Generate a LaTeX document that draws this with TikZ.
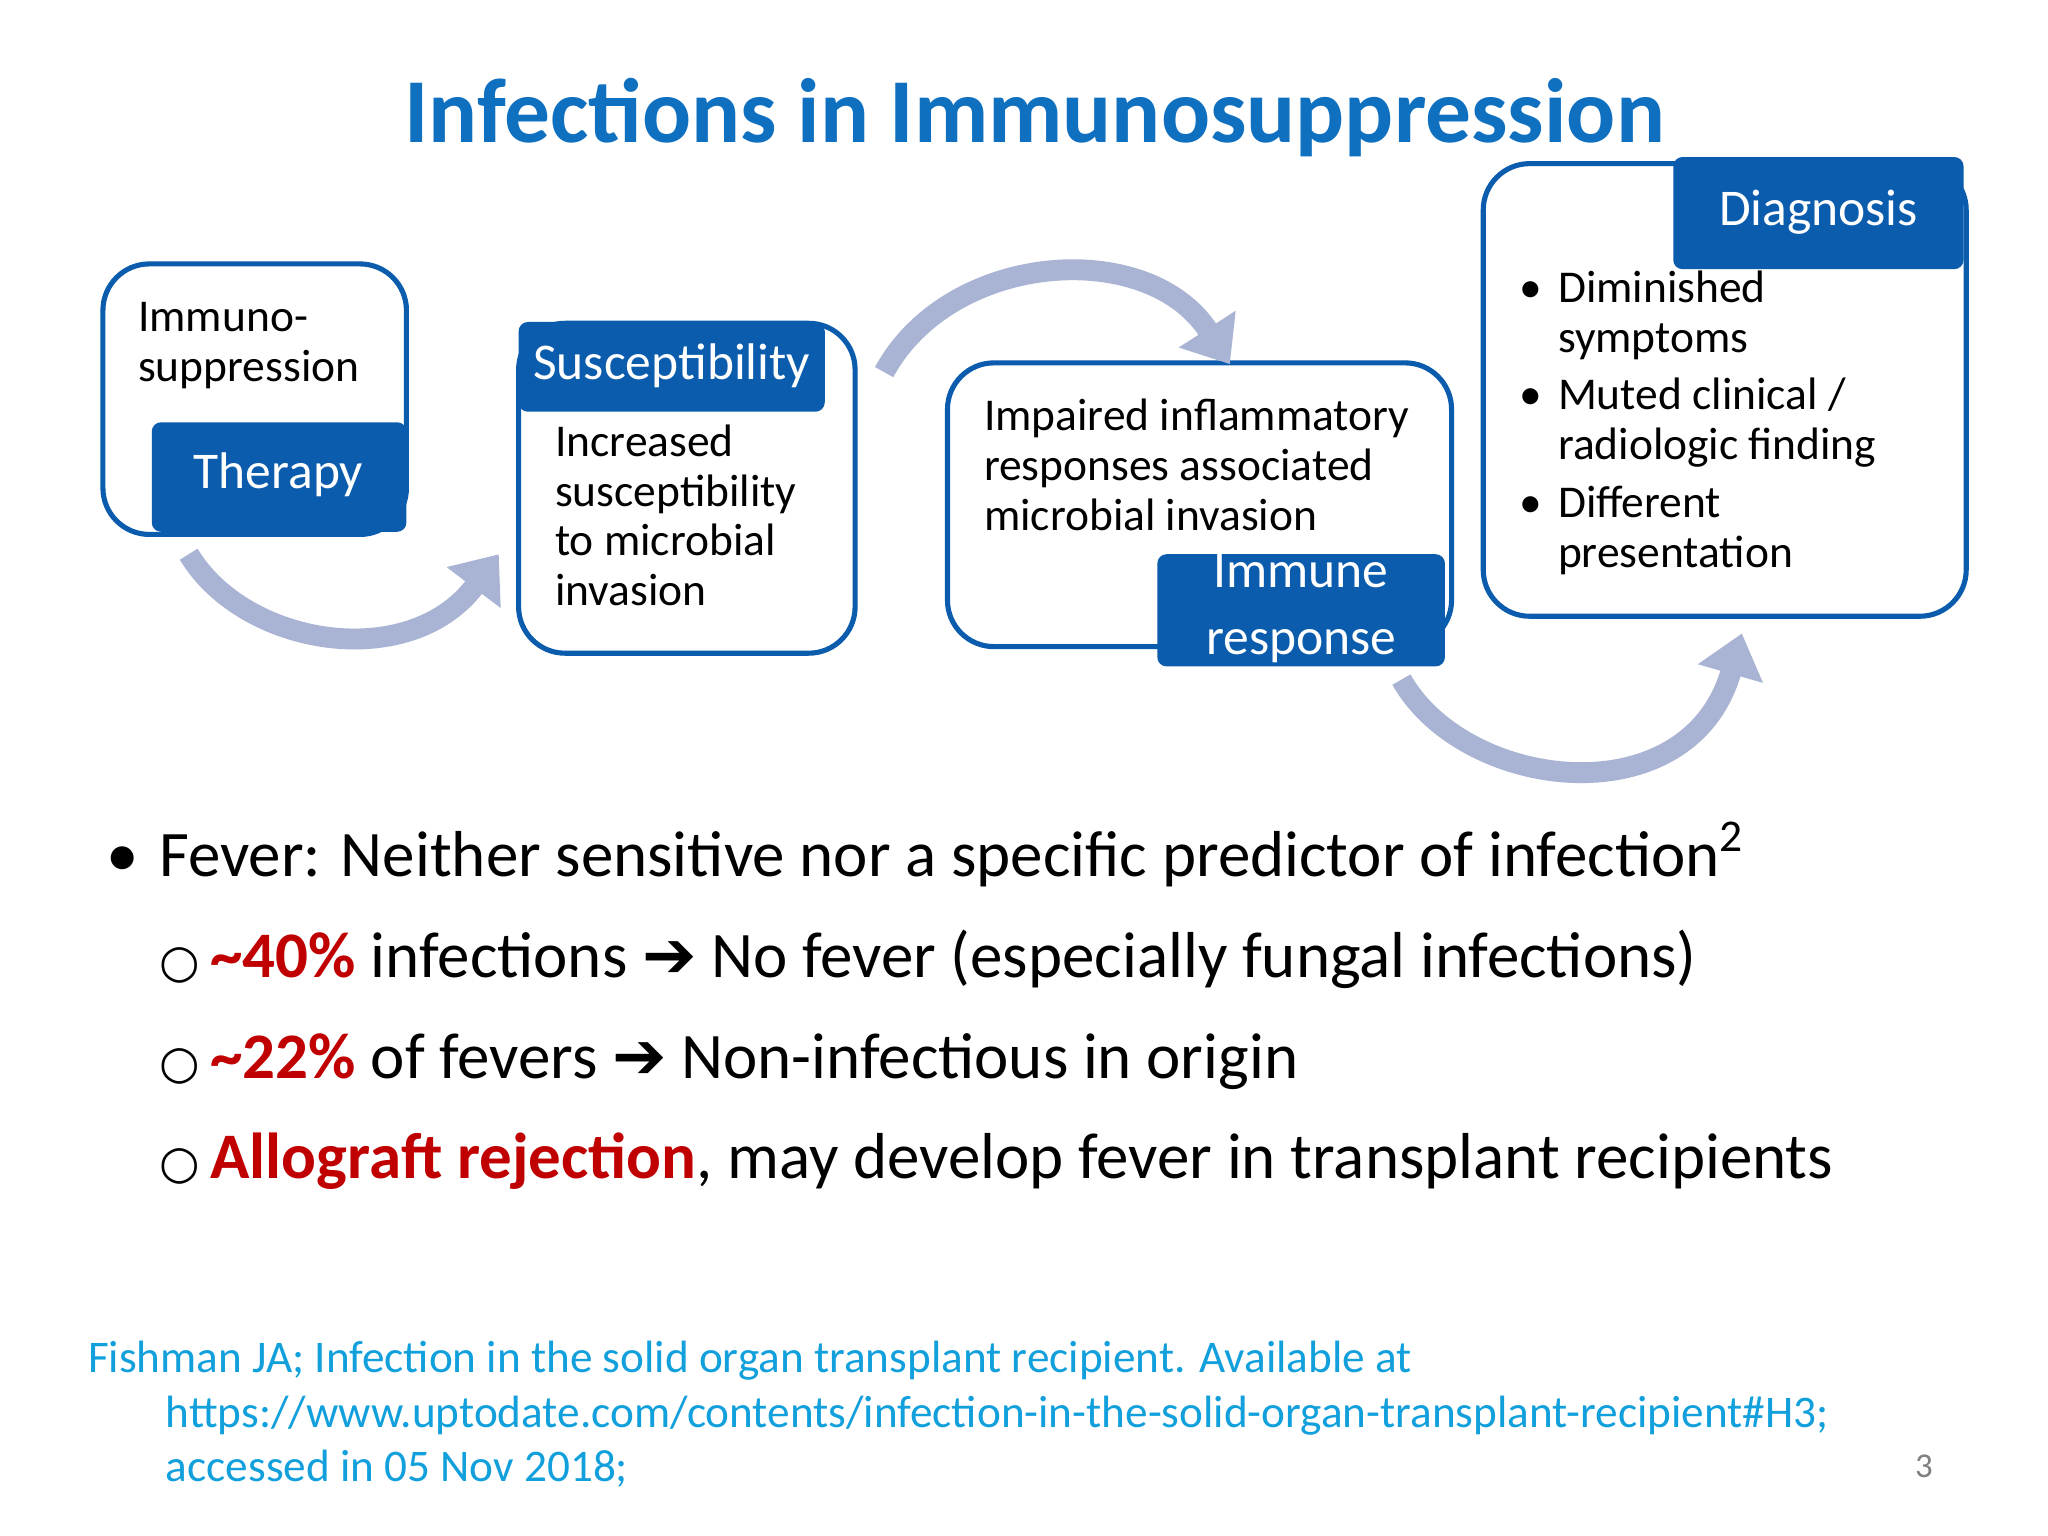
\documentclass[tikz,border=0pt]{standalone}
\usepackage{fontspec}
\setmainfont{Carlito}
\newfontfamily\djv{DejaVu Sans}
\usetikzlibrary{arrows.meta}
\definecolor{ttl}{HTML}{1070C0}
\definecolor{bx}{HTML}{0B5CAD}
\definecolor{rd}{HTML}{C00000}
\definecolor{arc}{HTML}{A9B4D4}
\definecolor{cy}{HTML}{12A0DC}
\tikzset{
 card/.style={draw=bx,line width=1.1pt,rounded corners=10pt,fill=white},
 labt/.style={text=white,font=\fontsize{11.1}{13.2}\selectfont,align=center},
 tx/.style={anchor=base west,inner sep=0pt,font=\fontsize{9.8}{12}\selectfont},
 big/.style={anchor=base west,inner sep=0pt,font=\fontsize{14}{17}\selectfont},
 fn/.style={anchor=base west,inner sep=0pt,font=\fontsize{9.75}{12}\selectfont,text=cy},
 flow/.style={draw=arc,line width=4.5pt,-{Triangle[length=9pt,width=14pt]}}
}
\newcommand{\circb}{{\djv\fontsize{10}{12}\selectfont ○}}
\begin{document}
\begin{tikzpicture}[x=0.01cm,y=-0.01cm]
\useasboundingbox[fill=white] (0,0) rectangle (1552,1164);
\node[font=\fontsize{19.7}{23}\selectfont\bfseries,text=ttl,anchor=base] (title) at (784,108) {Infections in Immunosuppression};
% box1
\draw[card] (78,200) rectangle (308,405);
\node[tx] (b1a) at (104,251) {Immuno-};
\node[tx] (b1b) at (104,289) {suppression};
\fill[bx,rounded corners=2pt] (115,320) rectangle (308,403);
\node[labt] (ther) at (211,360) {Therapy};
% box2
\draw[card] (393,245) rectangle (648,495);
\fill[bx,rounded corners=2pt] (393,244) rectangle (625,312);
\node[labt] (sus) at (509,277) {Susceptibility};
\node[tx] (b2a) at (420,346) {Increased};
\node[tx] (b2b) at (420,384) {susceptibility};
\node[tx] (b2c) at (420,421) {to microbial};
\node[tx] (b2d) at (420,459) {invasion};
% box3
\draw[card] (718,275) rectangle (1100,490);
\node[tx] (b3a) at (745,326) {Impaired inflammatory};
\node[tx] (b3b) at (745,364) {responses associated};
\node[tx] (b3c) at (745,402) {microbial invasion};
\fill[bx,rounded corners=2pt] (877,420) rectangle (1095,505);
\node[labt,font=\fontsize{11.1}{14.5}\selectfont] (imm) at (986,461) {Immune\\response};
% box4
\draw[card] (1124,124) rectangle (1490,467);
\fill[bx,rounded corners=2pt] (1268,119) rectangle (1488,204);
\node[labt] (dia) at (1378,161) {Diagnosis};
\node[tx] (d1b) at (1151,229) {•};
\node[tx] (d1) at (1180,229) {Diminished};
\node[tx] (d2) at (1180,267) {symptoms};
\node[tx] (d3b) at (1151,310) {•};
\node[tx] (d3) at (1180,310) {Muted clinical /};
\node[tx] (d4) at (1180,348) {radiologic finding};
\node[tx] (d5b) at (1151,392) {•};
\node[tx] (d5) at (1180,392) {Different};
\node[tx] (d6) at (1180,430) {presentation};
% arcs
\coordinate (a1s) at (143,420); \coordinate (a1e) at (378,420);
\draw[flow] (a1s) .. controls (185,490) and (310,510) .. (a1e);
\coordinate (a2s) at (670,282); \coordinate (a2e) at (932,276);
\draw[flow] (a2s) .. controls (720,190) and (870,180) .. (a2e);
\coordinate (a3s) at (1062,515); \coordinate (a3e) at (1320,480);
\draw[flow] (a3s) .. controls (1110,600) and (1280,620) .. (a3e);
% bullets
\node[big] (f1b) at (80,664) {•};
\node[big] (f1) at (120,664) {Fever: Neither sensitive nor a specific predictor of infection\textsuperscript{2}};
\node[big] (f2) at (120,741) {\circb\,\textcolor{rd}{\bfseries \textasciitilde 40\%} infections {\djv\bfseries ➔} No fever (especially fungal infections)};
\node[big] (f3) at (120,817) {\circb\,\textcolor{rd}{\bfseries \textasciitilde 22\%} of fevers {\djv\bfseries ➔} Non-infectious in origin};
\node[big] (f4) at (120,893) {\circb\,\textcolor{rd}{\bfseries Allograft rejection}, may develop fever in transplant recipients};
% footnote
\node[fn] (n1) at (66,1040) {Fishman JA; Infection in the solid organ transplant recipient. Available at};
\node[fn] (n2) at (125,1082) {https://www.uptodate.com/contents/infection-in-the-solid-organ-transplant-recipient\#H3;};
\node[fn] (n3) at (125,1123) {accessed in 05 Nov 2018;};
\node[anchor=base,inner sep=0pt,font=\fontsize{7.5}{9}\selectfont,text=gray] (pg) at (1458,1120) {3};
\end{tikzpicture}
\end{document}
